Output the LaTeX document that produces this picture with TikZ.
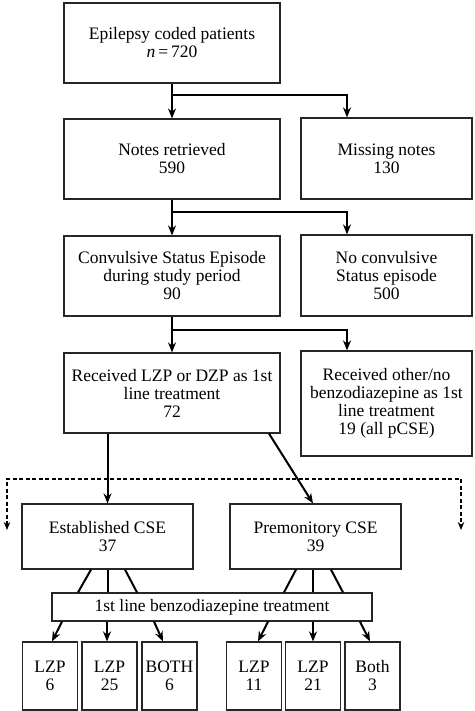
\documentclass[tikz,border=0pt]{standalone}
\usepackage{fontspec}
\setmainfont{Liberation Serif}
\usepackage{tikz}
\usetikzlibrary{arrows.meta}

\tikzset{
	box/.style={draw=black!85, line width=1.2pt, rectangle, align=center, inner sep=2pt,
		font=\fontsize{17.5}{18}\selectfont},
	arr/.style={-{Stealth[length=10pt, width=8pt]}, line width=2pt},
	link/.style={line width=2pt},
	dasharr/.style={{Stealth[length=8pt, width=6.5pt]}-{Stealth[length=8pt, width=6.5pt]},
		line width=2pt, dash pattern=on 4pt off 2.5pt}
}

\begin{document}
\begin{tikzpicture}[x=1pt, y=-1pt]
			\useasboundingbox (0,0) rectangle (474,711);

			% Main column
			\node[box, minimum width=216pt, minimum height=80pt] (epi) at (172, 43) {Epilepsy coded patients\\\textit{n}\thinspace=\thinspace720};
			\node[box, minimum width=216pt, minimum height=80pt] (notes) at (172, 159) {Notes retrieved\\590};
			\node[box, minimum width=216pt, minimum height=80pt] (cse) at (172, 276) {Convulsive Status Episode\\during study period\\90};
			\node[box, minimum width=216pt, minimum height=80pt] (recv) at (172, 393) {Received LZP or DZP as 1st\\line treatment\\72};

			% Exclusions on the right
			\node[box, minimum width=171pt, minimum height=81pt] (missing) at (386.5, 158.5) {Missing notes\\130};
			\node[box, minimum width=171pt, minimum height=81pt] (nocse) at (386.5, 275.5) {No convulsive\\Status episode\\500};
			\node[box, minimum width=171pt, minimum height=105pt] (other) at (386.5, 403.5) {Received other/no\\benzodiazepine as 1st\\line treatment\\19 (all pCSE)};

			% Main column arrows with branches
			\draw[arr] (epi.south) -- (notes.north);
			\draw[arr] (epi.south) ++(0,11) -| ([xshift=-39.5pt]missing.north);
			\draw[arr] (notes.south) -- (cse.north);
			\draw[arr] (notes.south) ++(0,12) -| ([xshift=-39.5pt]nocse.north);
			\draw[arr] (cse.south) -- (recv.north);
			\draw[arr] (cse.south) ++(0,13) -| ([xshift=-39.5pt]other.north);

			% CSE groups
			\node[box, minimum width=171pt, minimum height=65pt] (est) at (107.5, 536.5) {Established CSE\\37};
			\node[box, minimum width=171pt, minimum height=65pt] (pre) at (315.5, 536.5) {Premonitory CSE\\39};
			\draw[arr] (recv.south -| est.north) -- (est.north);
			\draw[arr] ([xshift=97pt]recv.south) -- ([xshift=-2.5pt]pre.north);

			% Dashed arrows to the sides
			\coordinate (dl) at (7, 530);
			\coordinate (dr) at (461, 530);
			\draw[dasharr] (dl) -- (7, 479) -- (461, 479) -- (dr);

			% Treatment bar
			\node[box, minimum width=320pt, minimum height=28pt] (treat) at (212, 607) {1st line benzodiazepine treatment};
			\draw[link] ([xshift=-16.5pt]est.south) -- ([xshift=-29.5pt]est.south |- treat.north);
			\draw[link] (est.south) -- (est.south |- treat.north);
			\draw[link] ([xshift=17.5pt]est.south) -- ([xshift=29.5pt]est.south |- treat.north);
			\draw[link] ([xshift=-19.5pt]pre.south) -- ([xshift=-31.5pt]pre.south |- treat.north);
			\draw[link] ([xshift=-2.5pt]pre.south) -- ([xshift=-2.5pt]pre.south |- treat.north);
			\draw[link] ([xshift=15.5pt]pre.south) -- ([xshift=27.5pt]pre.south |- treat.north);

			% Drug boxes
			\node[box, minimum width=55pt, minimum height=68pt] (lzpa) at (50, 676) {LZP\\6};
			\node[box, minimum width=55pt, minimum height=68pt] (lzpb) at (109.5, 676) {LZP\\25};
			\node[box, minimum width=55pt, minimum height=68pt] (botha) at (169.5, 676) {BOTH\\6};
			\node[box, minimum width=55pt, minimum height=68pt] (lzpc) at (254, 676) {LZP\\11};
			\node[box, minimum width=55pt, minimum height=68pt] (lzpd) at (313, 676) {LZP\\21};
			\node[box, minimum width=55pt, minimum height=68pt] (bothb) at (372.5, 676) {Both\\3};

			\draw[arr] ([xshift=12pt]lzpa.north |- treat.south) -- ([xshift=2pt]lzpa.north);
			\draw[arr] ([xshift=-2.5pt]lzpb.north |- treat.south) -- ([xshift=-2.5pt]lzpb.north);
			\draw[arr] ([xshift=-15.5pt]botha.north |- treat.south) -- ([xshift=-6.5pt]botha.north);
			\draw[arr] ([xshift=14pt]lzpc.north |- treat.south) -- ([xshift=4pt]lzpc.north);
			\draw[arr] (lzpd.north |- treat.south) -- (lzpd.north);
			\draw[arr] ([xshift=-12.5pt]bothb.north |- treat.south) -- ([xshift=-2.5pt]bothb.north);
		\end{tikzpicture}
\end{document}
